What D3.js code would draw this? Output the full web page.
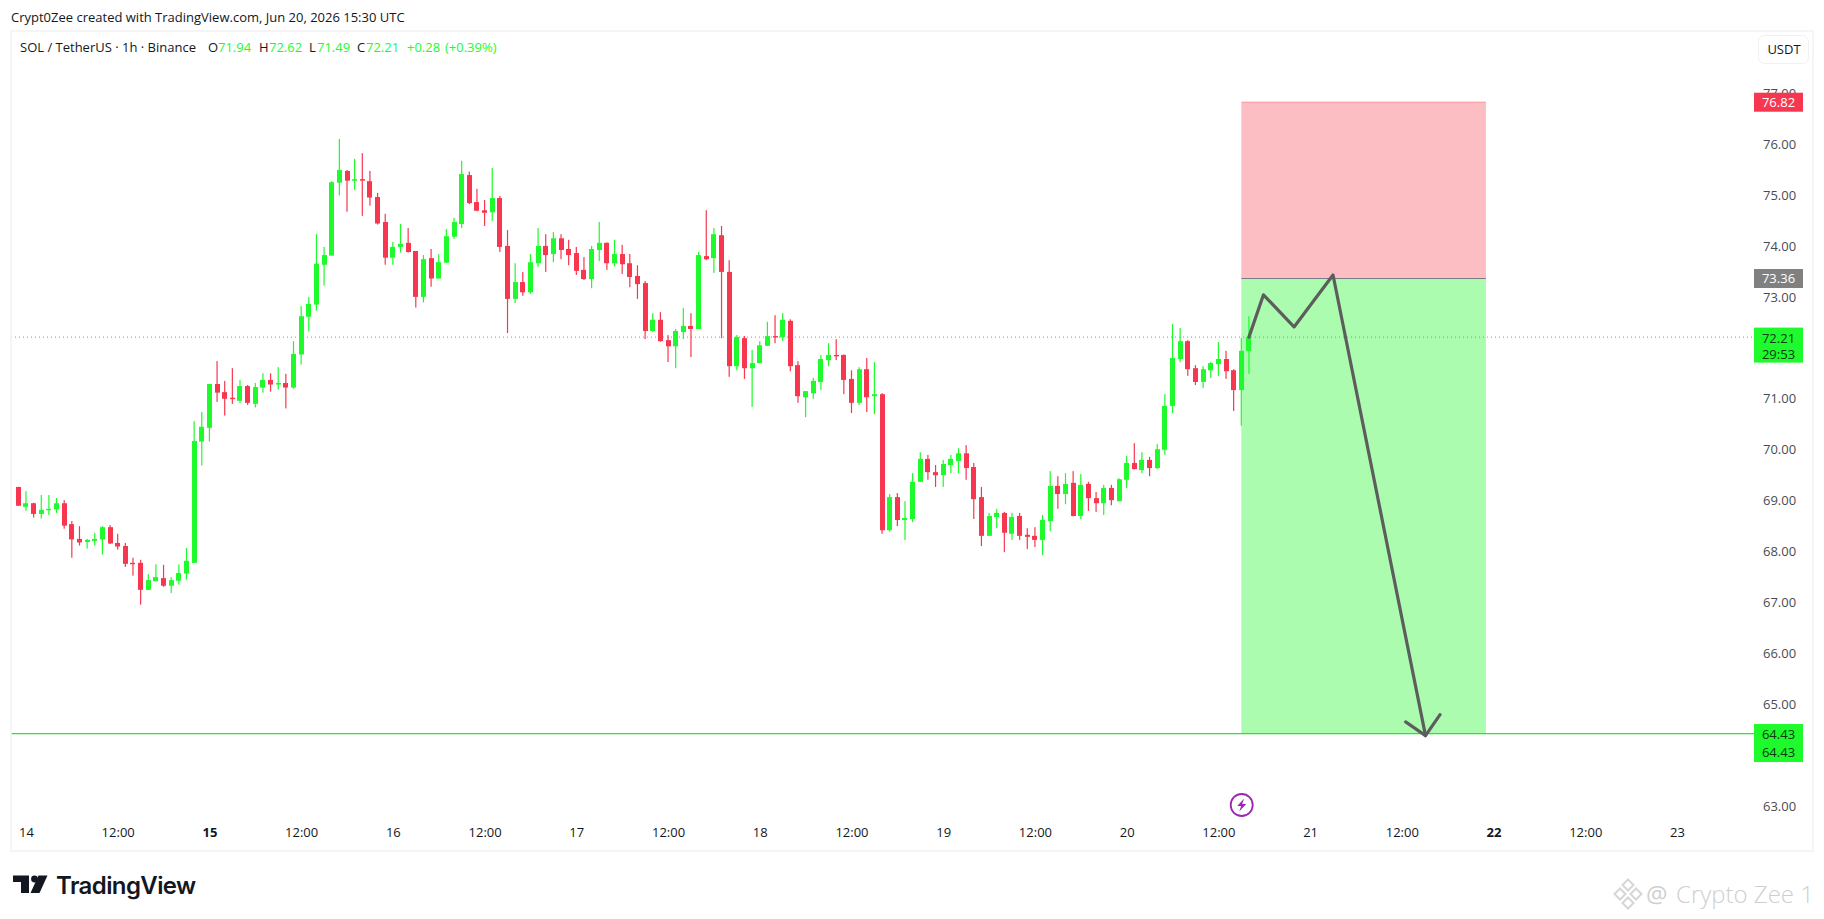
<!DOCTYPE html>
<html>
<head>
<meta charset="utf-8">
<script src="https://d3js.org/d3.v7.min.js"></script>
<style>
  html, body { margin: 0; padding: 0; background: #fff; overflow: hidden; }
  text { font-family: "Open Sans", "Noto Sans", sans-serif; }
</style>
</head>
<body>
<div id="main"></div>
<script>
// one hourly bar per slot, first bar is the one cut off by the left edge (Jun 13 22:00)
const opens = [69.27,68.88,68.95,68.74,68.82,68.83,68.95,68.54,68.25,68.19,68.21,68.24,68.48,68.17,68.11,67.78,67.78,67.25,67.42,67.48,67.33,67.43,67.57,67.78,70.16,70.43,
  71.29,71.13,71.02,70.96,71.25,70.90,71.22,71.37,71.28,71.31,71.22,71.87,72.61,72.85,73.63,73.81,75.24,75.47,75.28,75.31,75.27,74.96,74.47,73.77,73.98,74.06,73.90,73.00,73.76,73.36,73.67,74.18,
  74.43,75.39,74.86,74.70,74.66,74.94,74.00,72.96,73.29,73.09,73.66,74.00,73.84,74.15,73.94,73.86,73.53,73.35,73.92,74.06,73.66,73.84,73.66,73.41,73.27,72.33,72.55,72.15,72.03,72.31,72.43,72.37,73.80,73.76,74.21,73.49,71.64,72.19,71.60,71.70,72.04,72.23,72.21,72.53,71.66,71.03,71.11,71.33,71.76,71.86,71.86,71.39,70.92,71.58,71.05,
  71.09,68.42,69.07,68.62,68.64,69.37,69.82,69.56,69.50,69.70,69.78,69.93,69.66,69.07,68.31,68.68,68.76,68.35,68.70,68.33,68.31,68.23,68.60,69.29,69.13,69.35,68.70,69.33,69.05,68.95,69.25,68.99,69.41,69.74,69.60,69.80,69.64,70.00,70.86,71.78,72.13,71.60,71.33,71.56,71.68,71.78,71.56,71.17,71.94];
const highs = [69.27,69.19,68.96,69.11,69.11,69.05,69.01,68.60,68.50,68.25,68.37,68.50,68.52,68.35,68.17,67.88,67.84,67.56,67.75,67.74,67.50,67.75,68.07,70.56,70.74,71.29,
  71.74,71.35,71.60,71.37,71.27,71.31,71.50,71.50,71.62,71.49,72.13,72.82,73.00,74.23,73.98,75.27,76.10,75.49,75.71,75.82,75.47,75.04,74.63,74.08,74.43,74.35,73.90,73.82,73.94,73.84,74.33,74.55,
  75.67,75.46,75.12,74.90,75.53,74.98,74.31,73.66,73.49,73.84,74.35,74.23,74.27,74.23,74.12,73.98,73.78,74.00,74.47,74.07,74.12,74.02,73.84,73.62,73.31,72.68,72.70,72.25,72.37,72.78,72.68,73.88,74.70,74.35,74.39,73.72,72.25,72.23,71.96,72.13,72.51,72.64,72.68,72.56,71.74,71.15,71.41,71.86,72.09,72.17,71.87,71.56,71.62,71.80,71.72,
  71.11,69.13,69.15,68.99,69.54,69.95,69.90,69.70,69.80,69.90,70.03,70.09,69.74,69.27,68.76,68.84,68.78,68.76,68.76,68.46,68.48,68.72,69.58,69.48,69.54,69.58,69.52,69.37,69.17,69.31,69.31,69.44,69.88,70.13,69.95,69.86,70.11,71.09,72.47,72.39,72.15,71.66,71.64,71.72,72.11,71.94,71.58,72.19,72.62];
const lows = [68.90,68.80,68.67,68.65,68.72,68.76,68.45,67.88,68.12,68.06,68.12,67.94,68.15,68.04,67.70,67.53,66.96,67.25,67.42,67.31,67.19,67.35,67.45,67.78,69.69,70.16,
  70.94,70.67,70.90,70.92,70.88,70.83,71.12,71.14,71.18,70.81,71.20,71.67,72.32,72.73,73.22,73.81,74.99,74.67,75.10,74.59,74.79,74.42,73.63,73.63,73.87,73.87,72.79,72.89,73.20,73.36,73.67,74.14,
  74.35,74.82,74.68,74.39,74.49,73.88,72.29,72.88,73.02,73.06,73.59,73.49,73.68,73.74,73.62,73.43,73.33,73.17,73.70,73.53,73.60,73.45,73.19,72.96,72.17,72.31,72.12,71.72,71.60,72.17,71.82,72.37,73.72,73.47,72.19,71.43,71.56,71.39,70.84,71.70,72.04,72.09,72.13,71.54,70.92,70.64,71.00,71.17,71.64,71.76,71.09,70.72,70.88,70.74,70.70,
  68.35,68.39,68.50,68.23,68.58,69.37,69.41,69.27,69.27,69.54,69.54,69.41,68.64,68.11,68.31,68.46,67.99,68.23,68.23,68.05,68.09,67.93,68.40,68.84,68.93,68.69,68.64,68.80,68.78,68.72,68.91,68.99,69.25,69.61,69.54,69.48,69.62,69.90,70.72,71.72,71.45,71.27,71.21,71.41,71.45,71.39,70.76,70.47,71.49];
const closes = [68.90,68.95,68.74,68.82,68.84,68.95,68.51,68.24,68.18,68.23,68.25,68.48,68.16,68.10,67.76,67.76,67.25,67.44,67.50,67.33,67.44,67.58,67.82,70.17,70.45,71.29,
  71.12,71.00,71.00,71.25,70.92,71.23,71.37,71.28,71.31,71.22,71.88,72.62,72.86,73.65,73.82,75.25,75.49,75.28,75.31,75.28,74.95,74.44,73.77,73.98,74.04,73.88,73.00,73.74,73.36,73.68,74.19,74.47,
  75.41,74.84,74.69,74.65,74.94,73.98,72.96,73.29,73.09,73.68,74.00,73.82,74.15,73.92,73.82,73.51,73.35,73.94,74.06,73.66,73.84,73.64,73.39,73.25,72.33,72.55,72.13,72.03,72.33,72.43,72.37,73.82,73.74,74.23,73.49,71.64,72.21,71.60,71.70,72.05,72.23,72.21,72.55,71.64,71.05,71.15,71.35,71.78,71.86,71.84,71.37,70.92,71.58,71.03,71.09,
  68.42,69.07,68.62,68.66,69.37,69.82,69.56,69.50,69.72,69.82,69.93,69.64,69.03,68.31,68.70,68.76,68.37,68.68,68.31,68.29,68.23,68.62,69.29,69.13,69.33,68.70,69.31,69.05,68.95,69.25,69.01,69.42,69.74,69.62,69.80,69.64,70.01,70.86,71.80,72.13,71.58,71.33,71.58,71.70,71.78,71.54,71.17,71.94,72.21];

const priceTicks = [63,64,65,66,67,68,69,70,71,72,73,74,75,76,77];
const timeTickBars = [2,14,26,38,50,62,74,86,98,110,122,134,146,158,170,182,194,206,218,230,242,254,266,278,290];
const timeTickLabels = ["14","12:00","15","12:00","16","12:00","17","12:00","18","12:00","19","12:00","20","12:00","21","12:00","22","12:00","23"];
const boldTimeLabels = ["15","22"];

// short position tool
const positionBars = [161, 193];
const stopPrice = 76.82, entryPrice = 73.36, targetPrice = 64.43;
const lastPrice = 72.21;

// hand drawn path on top of the position, in bar / price units
const pathBars = [162, 163.9, 167.9, 173, 185.1];
const pathPrices = [72.21, 73.04, 72.41, 73.43, 64.39];
const headBars = [182.5, 185.1, 187];
const headPrices = [64.66, 64.39, 64.8];

const green = "#1efa2c", red = "#f7374f", textCol = "#131722";

const width = 1824, height = 919;
const plot = {left: 11, right: 1754, top: 31, bottom: 851};

const x = d3.scaleLinear().domain([1, 161]).range([18.33, 1241.3]);
const y = d3.scaleLinear().domain([76, 63]).range([144, 806.4]);

const svg = d3.select("#main").append("svg")
  .attr("width", width).attr("height", height)
  .style("display", "block");

svg.append("defs").append("clipPath").attr("id", "plotClip")
  .append("rect")
  .attr("x", plot.left).attr("y", plot.top)
  .attr("width", plot.right - plot.left).attr("height", plot.bottom - plot.top);

const chart = svg.append("g").attr("clip-path", "url(#plotClip)");

// position zones
chart.append("rect")
  .attr("x", x(positionBars[0])).attr("width", x(positionBars[1]) - x(positionBars[0]))
  .attr("y", y(stopPrice)).attr("height", y(entryPrice) - y(stopPrice))
  .attr("fill", "#fcbdc3");
chart.append("rect")
  .attr("x", x(positionBars[0])).attr("width", x(positionBars[1]) - x(positionBars[0]))
  .attr("y", y(entryPrice)).attr("height", y(targetPrice) - y(entryPrice))
  .attr("fill", "#abfcaf");
chart.append("line")
  .attr("x1", x(positionBars[0])).attr("x2", x(positionBars[1]))
  .attr("y1", y(stopPrice)).attr("y2", y(stopPrice))
  .attr("stroke", "#fb949d").attr("stroke-width", 1);
chart.append("line")
  .attr("x1", x(positionBars[0])).attr("x2", x(positionBars[1]))
  .attr("y1", y(entryPrice)).attr("y2", y(entryPrice))
  .attr("stroke", "#787b86").attr("stroke-width", 1);

// last price dotted line
chart.append("line")
  .attr("x1", plot.left).attr("x2", plot.right)
  .attr("y1", y(lastPrice)).attr("y2", y(lastPrice))
  .attr("stroke", "#35d040").attr("stroke-width", 1)
  .attr("stroke-dasharray", "1 3");

// candles
const bars = d3.range(opens.length);
const colorOf = i => closes[i] >= opens[i] ? green : red;

chart.selectAll("rect.wick").data(bars).enter().append("rect")
  .attr("class", "wick")
  .attr("x", i => x(i + 1) - 0.6)
  .attr("width", 1.2)
  .attr("y", i => y(highs[i]))
  .attr("height", i => y(lows[i]) - y(highs[i]))
  .attr("fill", colorOf);

chart.selectAll("rect.body").data(bars).enter().append("rect")
  .attr("class", "body")
  .attr("x", i => Math.round(x(i + 1) - 2.5))
  .attr("width", 5)
  .attr("y", i => y(Math.max(opens[i], closes[i])))
  .attr("height", i => Math.max(1.4, Math.abs(y(opens[i]) - y(closes[i]))))
  .attr("fill", colorOf);

// target line
chart.append("line")
  .attr("x1", plot.left).attr("x2", plot.right)
  .attr("y1", y(targetPrice)).attr("y2", y(targetPrice))
  .attr("stroke", "#25e533").attr("stroke-width", 1.2);

// drawn arrow
const pathLine = d3.line().x(d => x(d[0])).y(d => y(d[1]));
chart.append("path")
  .attr("d", pathLine(d3.zip(pathBars, pathPrices)))
  .attr("fill", "none").attr("stroke", "#5d5d5d").attr("stroke-width", 3.2)
  .attr("stroke-linejoin", "round").attr("stroke-linecap", "round");
chart.append("path")
  .attr("d", pathLine(d3.zip(headBars, headPrices)))
  .attr("fill", "none").attr("stroke", "#5d5d5d").attr("stroke-width", 3.2)
  .attr("stroke-linejoin", "round").attr("stroke-linecap", "round");

// pane frame
svg.append("rect")
  .attr("x", 11).attr("y", 31).attr("width", 1802).attr("height", 820)
  .attr("fill", "none").attr("stroke", "#f3f3f4").attr("stroke-width", 2)
  .attr("stroke-opacity", 0.8);

// price axis
const yAxis = d3.axisRight(y)
  .tickValues(priceTicks)
  .tickSize(0).tickPadding(0)
  .tickFormat(d3.format(".2f"));
const yG = svg.append("g")
  .attr("transform", "translate(1763,0)")
  .call(yAxis);
yG.select(".domain").remove();
yG.selectAll("text").attr("font-size", 13).attr("fill", "#4a4c52").style("font-family", '"Open Sans"');

// time axis
const xAxis = d3.axisBottom(x)
  .tickValues(timeTickBars.slice(0, timeTickLabels.length))
  .tickSize(0).tickPadding(0)
  .tickFormat((d, i) => timeTickLabels[i]);
const xG = svg.append("g")
  .attr("transform", "translate(0,828)")
  .call(xAxis);
xG.select(".domain").remove();
xG.selectAll("text")
  .attr("font-size", 13).attr("fill", textCol)
  .style("font-family", '"Open Sans"')
  .attr("font-weight", d => boldTimeLabels.includes(timeTickLabels[timeTickBars.indexOf(d)]) ? 700 : 400);

// price tags
function tag(top, h, fill) {
  svg.append("rect").attr("x", 1754).attr("y", top).attr("width", 49).attr("height", h).attr("fill", fill);
}
function tagText(txt, cy, col) {
  svg.append("text").attr("x", 1778.5).attr("y", cy).attr("dy", "0.36em")
    .attr("text-anchor", "middle").attr("font-size", 13).attr("fill", col).text(txt);
}
tag(y(stopPrice) - 9.5, 19, red);
tagText(stopPrice.toFixed(2), y(stopPrice), "#fff");
tag(y(entryPrice) - 9.5, 19, "#808080");
tagText(entryPrice.toFixed(2), y(entryPrice), "#fff");
tag(y(lastPrice) - 9.5, 35, green);
tagText(lastPrice.toFixed(2), y(lastPrice) + 1, "#0c3b10");
tagText("29:53", y(lastPrice) + 17, "#0c3b10");
tag(y(targetPrice) - 9.5, 38, green);
tagText(targetPrice.toFixed(2), y(targetPrice) + 1, "#0c3b10");
tagText(targetPrice.toFixed(2), y(targetPrice) + 19, "#0c3b10");

// currency button
svg.append("rect")
  .attr("x", 1758.5).attr("y", 35.5).attr("width", 50).attr("height", 28).attr("rx", 6)
  .attr("fill", "#fff").attr("stroke", "#f0f0f1");
svg.append("text").attr("x", 1784).attr("y", 49.5).attr("dy", "0.36em")
  .attr("text-anchor", "middle").attr("font-size", 13).attr("fill", textCol).text("USDT");

// header and legend
svg.append("text").attr("x", 11).attr("y", 17).attr("dy", "0.36em")
  .attr("font-size", 13).attr("fill", textCol)
  .text("Crypt0Zee created with TradingView.com, Jun 20, 2026 15:30 UTC");

const legendItems = [
  ["SOL / TetherUS · 1h · Binance", 20, textCol],
  ["O", 208, textCol], ["71.94", 218, green],
  ["H", 259, textCol], ["72.62", 269, green],
  ["L", 309, textCol], ["71.49", 317, green],
  ["C", 357, textCol], ["72.21", 366, green],
  ["+0.28", 407, green], ["(+0.39%)", 445, green]
];
svg.selectAll("text.legend").data(legendItems).enter().append("text")
  .attr("class", "legend")
  .attr("x", d => d[1]).attr("y", 47).attr("dy", "0.36em")
  .attr("font-size", 13).attr("fill", d => d[2]).text(d => d[0]);

// bolt marker
const bolt = svg.append("g").attr("transform", "translate(1241.7,805)");
bolt.append("circle").attr("r", 11).attr("fill", "#fff").attr("stroke", "#9c27b0").attr("stroke-width", 1.8);
bolt.append("path").attr("d", "M2.5,-6.5 L-4.5,1 L-0.5,1 L-2.5,6.5 L4.5,-1 L0.5,-1 Z").attr("fill", "#9c27b0");

// TradingView logo
const logo = svg.append("g").attr("fill", "#131722");
logo.append("path").attr("d", "M13,875.5 H29 V893 H21 V882 H13 Z");
logo.append("circle").attr("cx", 34.5).attr("cy", 879).attr("r", 3.4);
logo.append("path").attr("d", "M38.5,875.5 H47.5 L39.5,893 H30.5 Z");
svg.append("text").attr("x", 56).attr("y", 885).attr("dy", "0.36em")
  .attr("font-size", 24).attr("font-weight", 600).attr("fill", "#131722")
  .style("font-family", "Inter").style("letter-spacing", "-0.6px").text("TradingView");

// watermark
const mark = svg.append("g").attr("fill", "#d6d6d6");
[[0,-9],[-8,0],[8,0],[0,9]].forEach(p => {
  mark.append("path")
    .attr("transform", "translate(" + (1628 + p[0]) + "," + (894 + p[1]) + ")")
    .attr("d", "M0,-5.5 L5.5,0 L0,5.5 L-5.5,0 Z")
    .attr("fill", "none").attr("stroke", "#d6d6d6").attr("stroke-width", 2);
});
svg.append("text").attr("x", 1646).attr("y", 894).attr("dy", "0.36em")
  .attr("font-size", 24).attr("fill", "#cfcfcf").text("@");
svg.append("text").attr("x", 1676).attr("y", 894).attr("dy", "0.36em")
  .attr("font-size", 24).attr("font-weight", 300).attr("fill", "#cfcfcf").text("Crypto Zee 1");
</script>
</body>
</html>
